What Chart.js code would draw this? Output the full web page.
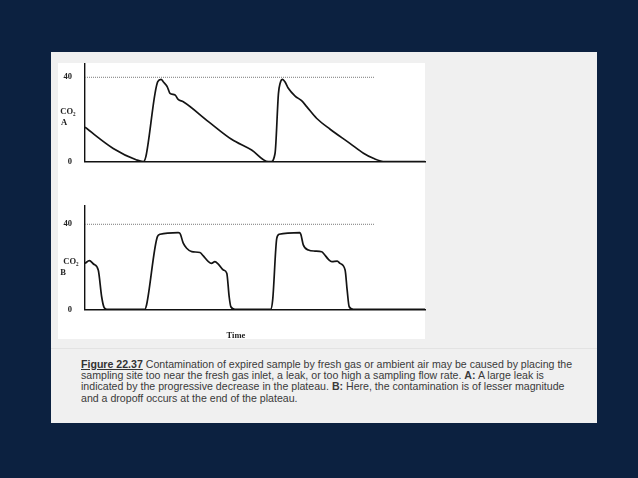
<!DOCTYPE html>
<html>
<head>
<meta charset="utf-8">
<script src="https://cdn.jsdelivr.net/npm/chart.js@4.4.0/dist/chart.umd.min.js"></script>
<style>
  html, body { margin: 0; padding: 0; }
  body { width: 638px; height: 478px; background: #0c2140; position: relative; overflow: hidden; }
  #panel { position: absolute; left: 51px; top: 52px; width: 546px; height: 371px; background: #f0f0f0; }
  #figure { position: absolute; left: 58px; top: 63px; width: 367px; height: 276px; background: #fff; }
  #rule { position: absolute; left: 51px; top: 348px; width: 546px; height: 1px; background: #e3e3e3; }
  canvas { position: absolute; }
  #caption {
    position: absolute; left: 81px; top: 359px;
    font-family: "Liberation Sans", Arial, sans-serif; font-size: 10.6px; line-height: 11.2px;
    color: #3a3a3a; white-space: nowrap;
  }
  #caption .fig { text-decoration: underline; font-weight: bold; color: #333; }
</style>
</head>
<body>
<div id="panel"></div>
<div id="figure"></div>
<div id="rule"></div>
<canvas id="chartA" width="370" height="123" style="left:58px;top:58px;width:370px;height:123px"></canvas>
<canvas id="chartB" width="370" height="145" style="left:58px;top:200px;width:370px;height:145px"></canvas>
<div id="caption">
  <span class="fig">Figure 22.37</span> Contamination of expired sample by fresh gas or ambient air may be caused by placing the<br>
  sampling site too near the fresh gas inlet, a leak, or too high a sampling flow rate. <b>A:</b> A large leak is<br>
  indicated by the progressive decrease in the plateau. <b>B:</b> Here, the contamination is of lesser magnitude<br>
  and a dropoff occurs at the end of the plateau.
</div>
<script>
// Trace A: large leak, plateau keeps falling
const timeA = [0, 8.3, 15.2, 17.1, 17.9, 20.6, 21.4, 22.4, 23.0, 24.2, 25.0, 26.5, 27.4, 28.9,
  36.3, 43.1, 49.0, 53.9, 54.6, 55.9, 56.9, 57.4, 58.1, 58.8, 59.8, 61.8, 63.7, 65.2, 68.1,
  72.1, 77.9, 81.9, 84.8, 88.2, 100];
const co2A = [16.3, 6.3, 0.8, 0, 2.4, 32.4, 37.9, 39.0, 37.9, 35.5, 32.4, 31.6, 29.5, 28.4,
  19.0, 10.6, 5.5, 0, 0, 4, 32.4, 37.2, 39.0, 37.9, 34.8, 31.1, 28.9, 26.1, 20.6,
  15.4, 8.7, 4, 1.6, 0, 0];

// Trace B: smaller leak, dropoff at end of plateau
const timeB = [0, 1.3, 2.5, 3.9, 4.9, 5.6, 6.4, 17.6, 18.1, 21.3, 22.1, 27.4, 27.9, 28.9, 29.9,
  31.4, 33.8, 34.8, 36.3, 37.2, 38.2, 39.2, 40.7, 41.7, 42.4, 42.9, 44.1, 54.6, 55.2, 56.4,
  57.1, 63.2, 63.5, 64.2, 65.7, 67.6, 69.6, 70.3, 71.6, 72.6, 74.2, 75.0, 76.5, 77.1, 77.7,
  78.9, 100];
const co2B = [21.6, 22.9, 21.3, 18.5, 5.9, 0.9, 0, 0, 2, 34.2, 35.3, 36.1, 35.8, 31.1, 28.7,
  27.1, 26.7, 25.1, 22.4, 21.6, 22.4, 21.3, 18.5, 17, 5.9, 1.2, 0, 0, 4.4, 33.4,
  35.3, 36.1, 35.2, 30.3, 27.9, 27.4, 27.1, 26, 23.5, 22.4, 22.7, 21.6, 18.5, 9.1, 1.2,
  0, 0];

// 40 mmHg reference and tick labels
const refLevel = 40;
const refTimes = [0, 85];
const yTicks = [0, 40];

const labelFont = 'bold 8.5px "Liberation Serif", "Times New Roman", serif';

// draws the CO2 / A / B / Time texts next to the axes
const sideLabels = {
  id: 'sideLabels',
  afterDraw(chart, args, opts) {
    const ctx = chart.ctx;
    const x = chart.scales.x;
    const y = chart.scales.y;
    ctx.save();
    ctx.font = labelFont;
    ctx.fillStyle = '#222';
    ctx.textBaseline = 'middle';
    ctx.textAlign = 'center';
    opts.items.forEach((it) => {
      const px = it.x != null ? x.getPixelForValue(it.x) : it.px;
      const py = it.y != null ? y.getPixelForValue(it.y) : it.py;
      ctx.fillText(it.text, px, py);
    });
    ctx.restore();
  },
};

function makeChart(id, times, values, yMax, padBottom, items) {
  const ctx = document.getElementById(id).getContext('2d');
  return new Chart(ctx, {
    type: 'line',
    data: {
      datasets: [
        {
          data: times.map((t, i) => ({ x: t, y: values[i] })),
          borderColor: '#141414',
          borderWidth: 1.7,
          pointRadius: 0,
          cubicInterpolationMode: 'monotone',
        },
        {
          data: refTimes.map((t) => ({ x: t, y: refLevel })),
          borderColor: '#7a7a7a',
          borderWidth: 1,
          borderDash: [1, 1],
          pointRadius: 0,
        },
      ],
    },
    options: {
      responsive: false,
      animation: false,
      layout: { padding: { top: 6, right: 3, bottom: padBottom, left: 0 } },
      plugins: {
        legend: { display: false },
        tooltip: { enabled: false },
        sideLabels: { items: items },
      },
      scales: {
        x: {
          type: 'linear',
          min: 0,
          max: 100,
          grid: { display: false },
          ticks: { display: false },
          border: { display: true, color: '#111', width: 1.4 },
          afterFit: (s) => { s.height = 0; },
        },
        y: {
          type: 'linear',
          min: 0,
          max: yMax,
          grid: { display: false },
          border: { display: true, color: '#111', width: 1.4 },
          afterBuildTicks: (s) => { s.ticks = yTicks.map((v) => ({ value: v })); },
          ticks: {
            padding: 5,
            color: '#222',
            font: { family: '"Liberation Serif", "Times New Roman", serif', size: 8.5, weight: 'bold' },
          },
          afterFit: (s) => { s.width = 27; s.paddingTop = 0; s.paddingBottom = 0; },
        },
      },
    },
    plugins: [sideLabels],
  });
}

makeChart('chartA', timeA, co2A, 46.3, 19.3, [
  { text: 'CO\u2082', px: 10, y: 23.7 },
  { text: 'A', px: 6, y: 18.5 },
]);

makeChart('chartB', timeB, co2B, 48.6, 35.7, [
  { text: 'CO\u2082', px: 13, y: 22.4 },
  { text: 'B', px: 5, y: 17.2 },
  { text: 'Time', x: 44.4, py: 136 },
]);
</script>
</body>
</html>
